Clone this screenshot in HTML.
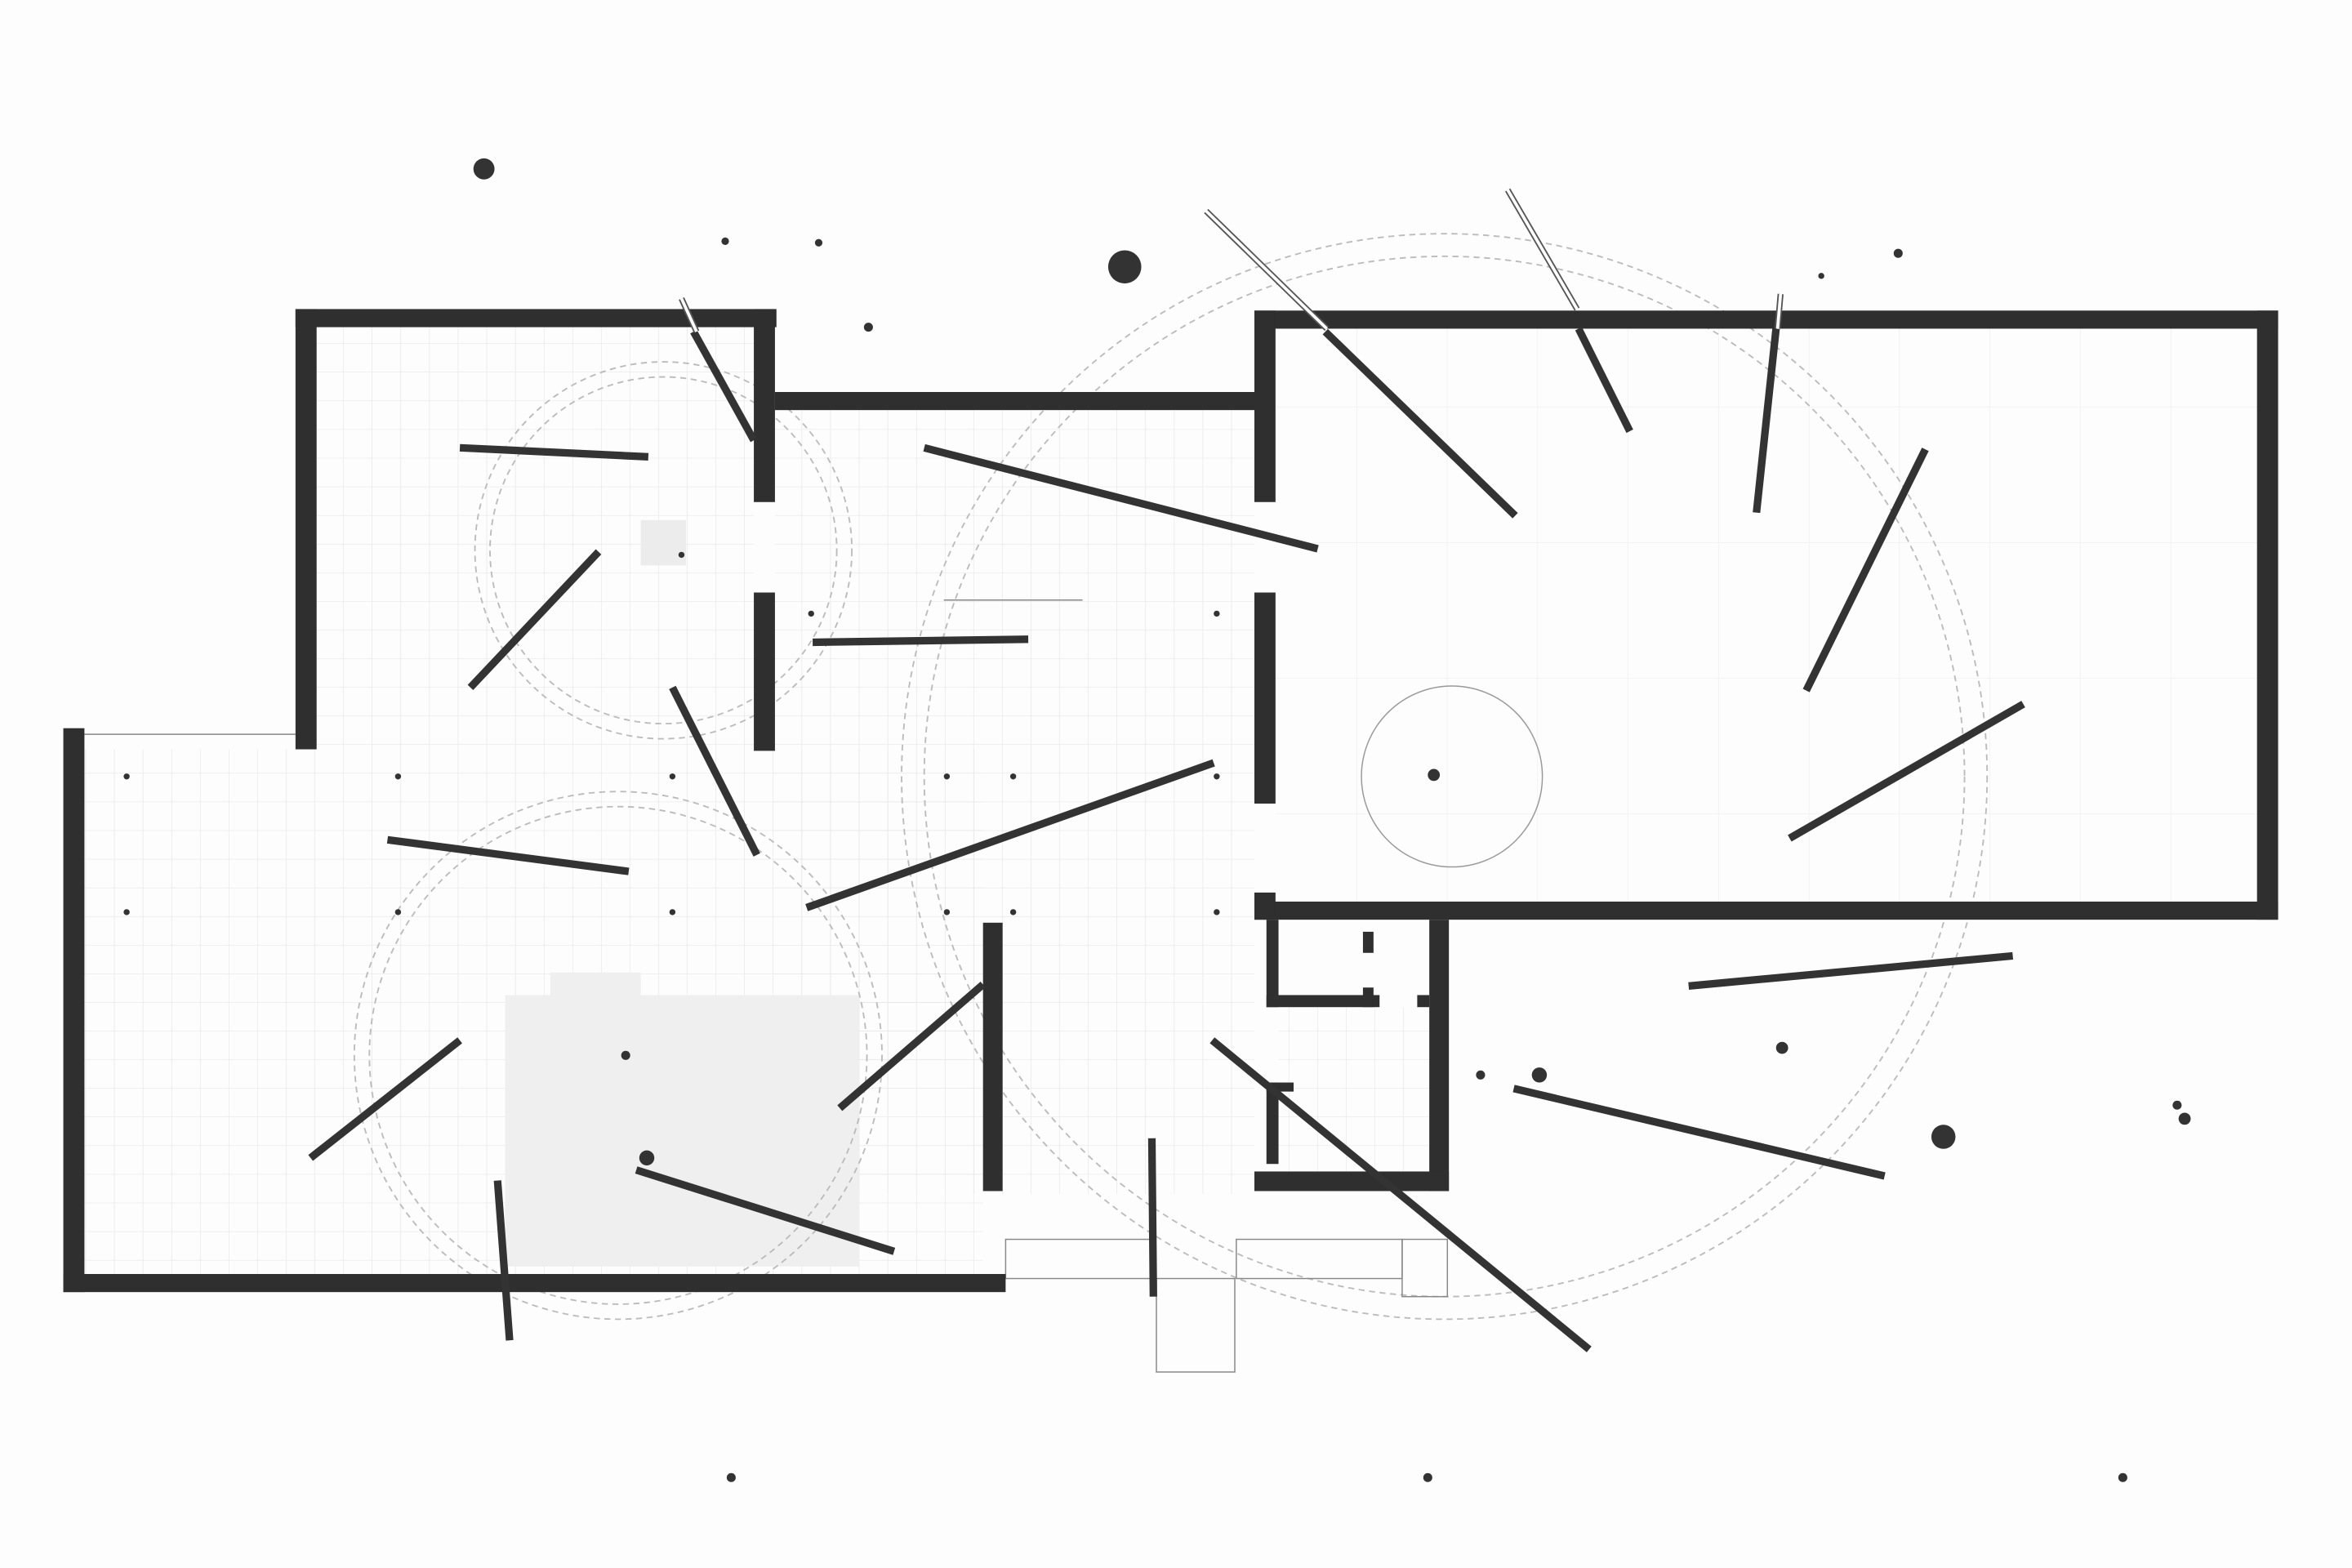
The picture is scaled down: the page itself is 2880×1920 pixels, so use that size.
<!DOCTYPE html>
<html><head><meta charset="utf-8"><style>html,body{margin:0;padding:0;background:#fff}svg{display:block}</style></head>
<body>
<svg width="2880" height="1920" viewBox="0 0 1560 1040" xmlns="http://www.w3.org/2000/svg">
<defs>
<pattern id="g" width="19" height="19" patternUnits="userSpaceOnUse"><path d="M19 0V19H0" fill="none" stroke="#e2e2e2" stroke-width="0.6"/></pattern>
<pattern id="g2" width="60" height="90" patternUnits="userSpaceOnUse"><path d="M60 0V90H0" fill="none" stroke="#ececec" stroke-width="0.6"/></pattern>
</defs>
<rect width="1560" height="1040" fill="#fdfdfd"/>
<rect x="210" y="217" width="290" height="280" fill="url(#g)"/>
<rect x="56" y="497" width="596" height="348" fill="url(#g)"/>
<rect x="514" y="272" width="318" height="520" fill="url(#g)"/>
<rect x="846" y="218" width="651" height="380" fill="url(#g2)"/>
<rect x="848" y="668" width="100" height="109" fill="url(#g)"/>
<path d="M335 660H365V645H425V660H570V840H335Z" fill="#efefef"/>
<rect x="425" y="345" width="30" height="30" fill="#ececec"/>
<g fill="none" stroke="#bbb" stroke-width="1" stroke-dasharray="4 3">
<circle cx="958" cy="515" r="360"/><circle cx="958" cy="515" r="345"/>
<circle cx="440" cy="365" r="125"/><circle cx="440" cy="365" r="115"/>
<circle cx="410" cy="700" r="175"/><circle cx="410" cy="700" r="165"/>
</g>
<circle cx="963" cy="515" r="60" fill="none" stroke="#999" stroke-width="0.8"/>
<g fill="none" stroke="#888" stroke-width="0.8">
<rect x="667" y="822" width="96" height="26"/><rect x="820" y="822" width="110" height="26"/>
<rect x="767" y="848" width="52" height="62"/><rect x="930" y="822" width="30" height="38"/>
<line x1="56" y1="487" x2="196" y2="487"/><line x1="626" y1="398" x2="718" y2="398"/>
</g>
<g fill="#2f2f2f">
<rect x="196" y="205" width="319" height="12"/>
<rect x="196" y="205" width="14" height="292"/>
<rect x="500" y="205" width="14" height="128"/>
<rect x="500" y="393" width="14" height="105"/>
<rect x="514" y="260" width="331" height="12"/>
<rect x="832" y="206" width="679" height="12"/>
<rect x="1497" y="206" width="14" height="404"/>
<rect x="832" y="598" width="679" height="12"/>
<rect x="832" y="206" width="14" height="127"/>
<rect x="832" y="393" width="14" height="140"/>
<rect x="832" y="592" width="14" height="18"/>
<rect x="42" y="483" width="14" height="374"/>
<rect x="42" y="845" width="625" height="12"/>
<rect x="652" y="612" width="13" height="178"/>
<rect x="948" y="610" width="13" height="180"/>
<rect x="832" y="777" width="129" height="13"/>
<rect x="840" y="610" width="8" height="58"/>
<rect x="840" y="660" width="75" height="8"/>
<rect x="904" y="618" width="7" height="14"/>
<rect x="904" y="655" width="7" height="13"/>
<rect x="940" y="660" width="8" height="8"/>
<rect x="840" y="718" width="8" height="54"/>
<rect x="840" y="718" width="18" height="6"/>
</g>
<g stroke="#333" stroke-width="5" stroke-linecap="butt">
<line x1="305" y1="297" x2="430" y2="303"/>
<line x1="460" y1="220" x2="500" y2="292"/>
<line x1="312" y1="456" x2="397" y2="366"/>
<line x1="446" y1="456" x2="502" y2="567"/>
<line x1="539" y1="426" x2="682" y2="424"/>
<line x1="613" y1="297" x2="874" y2="364"/>
<line x1="257" y1="557" x2="417" y2="578"/>
<line x1="535" y1="602" x2="805" y2="506"/>
<line x1="557" y1="735" x2="652" y2="653"/>
<line x1="206" y1="768" x2="305" y2="690"/>
<line x1="330" y1="783" x2="338" y2="889"/>
<line x1="422" y1="776" x2="593" y2="830"/>
<line x1="804" y1="690" x2="1054" y2="895"/>
<line x1="879" y1="220" x2="1005" y2="342"/>
<line x1="1047" y1="218" x2="1081" y2="286"/>
<line x1="1178" y1="218" x2="1165" y2="340"/>
<line x1="1277" y1="298" x2="1198" y2="458"/>
<line x1="1342" y1="467" x2="1187" y2="556"/>
<line x1="1120" y1="654" x2="1335" y2="634"/>
<line x1="1004" y1="722" x2="1250" y2="780"/>
<line x1="764" y1="755" x2="765" y2="860"/>
</g>
<g stroke="#555" stroke-width="4" fill="none">
<line x1="800" y1="140" x2="880" y2="218"/><line x1="1000" y1="126" x2="1046" y2="205"/>
<line x1="1181" y1="195" x2="1179" y2="218"/><line x1="452" y1="198" x2="462" y2="220"/>
</g>
<g stroke="#fff" stroke-width="2" fill="none">
<line x1="800" y1="140" x2="880" y2="218"/><line x1="1000" y1="126" x2="1046" y2="205"/>
<line x1="1181" y1="195" x2="1179" y2="218"/><line x1="452" y1="198" x2="462" y2="220"/>
</g>
<g fill="#333">
<circle cx="321" cy="112" r="7"/><circle cx="746" cy="177" r="11"/>
<circle cx="481" cy="160" r="2.5"/><circle cx="543" cy="161" r="2.5"/><circle cx="576" cy="217" r="3"/>
<circle cx="1259" cy="168" r="3"/><circle cx="1208" cy="183" r="2"/>
<circle cx="1021" cy="713" r="5"/><circle cx="982" cy="713" r="3"/><circle cx="1182" cy="695" r="4"/>
<circle cx="1289" cy="754" r="8"/><circle cx="1444" cy="733" r="3"/><circle cx="1449" cy="742" r="4"/>
<circle cx="429" cy="768" r="5"/><circle cx="415" cy="700" r="3"/><circle cx="452" cy="368" r="2"/>
<circle cx="951" cy="514" r="4"/>
<circle cx="485" cy="980" r="3"/><circle cx="947" cy="980" r="3"/><circle cx="1408" cy="980" r="3"/>
<circle cx="84" cy="515" r="2"/><circle cx="264" cy="515" r="2"/><circle cx="446" cy="515" r="2"/><circle cx="628" cy="515" r="2"/><circle cx="672" cy="515" r="2"/><circle cx="807" cy="515" r="2"/>
<circle cx="84" cy="605" r="2"/><circle cx="264" cy="605" r="2"/><circle cx="446" cy="605" r="2"/><circle cx="628" cy="605" r="2"/><circle cx="672" cy="605" r="2"/><circle cx="807" cy="605" r="2"/>
<circle cx="538" cy="407" r="2"/><circle cx="807" cy="407" r="2"/>
</g>
</svg>
</body></html>
